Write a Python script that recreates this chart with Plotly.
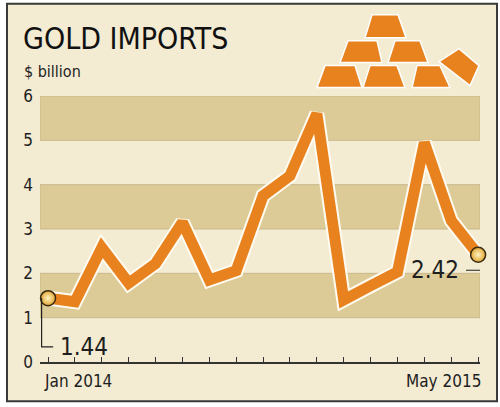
import plotly.graph_objects as go

# monthly gold imports, $ billion
months = ["Jan 2014", "Feb 2014", "Mar 2014", "Apr 2014", "May 2014", "Jun 2014",
          "Jul 2014", "Aug 2014", "Sep 2014", "Oct 2014", "Nov 2014", "Dec 2014",
          "Jan 2015", "Feb 2015", "Mar 2015", "Apr 2015", "May 2015"]
imports = [1.44, 1.36, 2.58, 1.78, 2.22, 3.15, 1.85, 2.06, 3.75, 4.2, 5.6,
           1.4, 1.72, 2.03, 4.95, 3.19, 2.42]
first_label = "1.44"
last_label = "2.42"
yticks = [0, 1, 2, 3, 4, 5, 6]

W, H = 500, 407
L, R, T, B = 40, 20, 95.5, 44.5
pw, ph = W - L - R, H - T - B

def px(x):
    return (x - L) / pw

def py(y):
    return (H - B - y) / ph

FONT = "Liberation Sans Narrow, DejaVu Sans Condensed, Arial Narrow, sans-serif"
ORANGE = "#E8821E"
CREAM = "#F3EBD2"
BAND = "#DCCB97"
INK = "#1E1E1E"

fig = go.Figure()

# white halo under the line, then the orange line
fig.add_trace(go.Scatter(x=months, y=imports, mode="lines",
                         line=dict(color="#FFFBF0", width=15), hoverinfo="skip"))
fig.add_trace(go.Scatter(x=months, y=imports, mode="lines",
                         line=dict(color=ORANGE, width=11)))
# end point markers
ends = [0, len(months) - 1]
fig.add_trace(go.Scatter(x=[months[i] for i in ends], y=[imports[i] for i in ends],
                         mode="markers", cliponaxis=False,
                         marker=dict(size=15, color="#E2A532",
                                     gradient=dict(type="radial", color="#FFF4C2"),
                                     line=dict(color="#3A2A10", width=1.5))))

shapes = []
# outer frame / background
shapes.append(dict(type="rect", xref="paper", yref="paper",
                   x0=px(7), x1=px(497), y0=py(402), y1=py(3),
                   fillcolor=CREAM, line=dict(color="#3A3A3A", width=2), layer="below"))
# alternating bands
x0b, x1b = -0.3, len(months) - 1 + 0.07
for lo in [1, 3, 5]:
    shapes.append(dict(type="rect", xref="x", yref="y", x0=x0b, x1=x1b, y0=lo, y1=lo + 1,
                       fillcolor=BAND, line=dict(color="#C9B98C", width=1), layer="below"))

# leader lines for the end labels
shapes.append(dict(type="path", xref="x", yref="y",
                   path=f"M {-0.24},{imports[0]} L {-0.24},{imports[0] - 1.1} L {0.19},{imports[0] - 1.1}",
                   line=dict(color="#222", width=1.2)))
n = len(months) - 1
shapes.append(dict(type="path", xref="x", yref="y",
                   path=f"M {n + 0.11},{imports[-1]} L {n + 0.11},{imports[-1] - 0.35} L {n - 0.45},{imports[-1] - 0.35}",
                   line=dict(color="#222", width=1.2)))

# gold bar pyramid icon (pixel outlines)
bars = [
    [(372, 14), (398, 14), (406, 37), (365, 37)],
    [(348, 40), (377, 40), (382, 62), (340, 62)],
    [(395, 40), (420, 40), (428, 62), (388, 62)],
    [(325, 65), (355, 65), (362, 87), (317, 87)],
    [(370, 65), (397, 65), (405, 87), (363, 87)],
    [(417, 65), (440, 65), (450, 87), (412, 87)],
    [(439, 61), (459, 48), (479, 65), (470, 85)],
]
for b in bars:
    path = "M " + " L ".join(f"{px(x):.4f},{py(y):.4f}" for x, y in b) + " Z"
    shapes.append(dict(type="path", xref="paper", yref="paper", path=path,
                       fillcolor=ORANGE, line=dict(color="#FFFFFF", width=1.5)))

annotations = [
    dict(text="GOLD IMPORTS", xref="paper", yref="paper", x=px(21), y=py(38),
         xanchor="left", yanchor="middle", showarrow=False,
         font=dict(family=FONT, size=30, color="#111111")),
    dict(text="$ billion", xref="paper", yref="paper", x=px(22), y=py(71),
         xanchor="left", yanchor="middle", showarrow=False,
         font=dict(family=FONT, size=16, color=INK)),
    dict(text=first_label, x=months[0], y=imports[0] - 1.1, xref="x", yref="y",
         xanchor="left", yanchor="middle", xshift=10, showarrow=False,
         font=dict(family=FONT, size=24, color=INK)),
    dict(text=last_label, x=months[-1], y=imports[-1] - 0.35, xref="x", yref="y",
         xanchor="right", yanchor="middle", xshift=-17, showarrow=False,
         font=dict(family=FONT, size=24, color=INK)),
    dict(text=months[0], x=months[0], y=0, xref="x", yref="paper",
         xanchor="left", yanchor="middle", xshift=-6, yshift=-19, showarrow=False,
         font=dict(family=FONT, size=17, color=INK)),
    dict(text=months[-1], x=months[-1], y=0, xref="x", yref="paper",
         xanchor="right", yanchor="middle", xshift=5, yshift=-19, showarrow=False,
         font=dict(family=FONT, size=17, color=INK)),
]

fig.update_layout(
    width=W, height=H,
    margin=dict(l=L, r=R, t=T, b=B),
    paper_bgcolor="#FFFFFF",
    plot_bgcolor="rgba(0,0,0,0)",
    showlegend=False,
    shapes=shapes,
    annotations=annotations,
    xaxis=dict(type="category", range=[x0b, x1b], showgrid=False, zeroline=False,
               showline=True, linecolor="#333", linewidth=1.5,
               ticks="inside", ticklen=5, tickcolor="#333", tickwidth=1.2,
               showticklabels=False, fixedrange=True),
    yaxis=dict(range=[0, 6], tickvals=yticks, showgrid=False, zeroline=False,
               showline=False, ticks="", ticklabelstandoff=6,
               tickfont=dict(family=FONT, size=17, color=INK), fixedrange=True),
)

# drop the page's default body margin so the chart sits at the window corner
fig.write_html("out.html", config={"displayModeBar": False},
               post_script="document.body.style.margin = '0';")
